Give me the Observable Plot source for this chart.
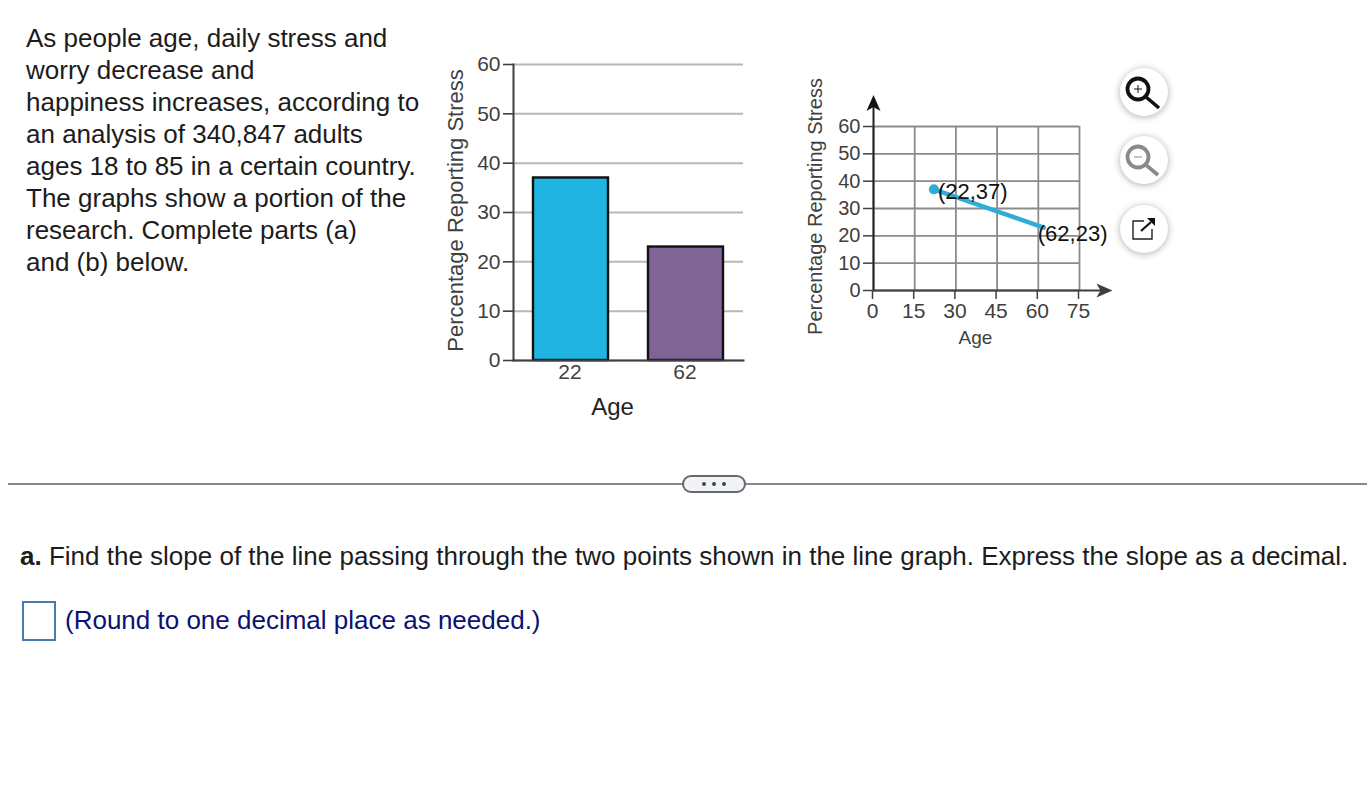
<!DOCTYPE html>
<html><head><meta charset="utf-8">
<script src="https://cdn.jsdelivr.net/npm/d3@7"></script>
<script src="https://cdn.jsdelivr.net/npm/@observablehq/plot@0.6"></script>
<style>
html,body{margin:0;padding:0;background:#fff;width:1367px;height:786px;overflow:hidden;font-family:"Liberation Sans",Arial,sans-serif;color:#1c1c1c}
.abs{position:absolute}
#intro{left:26px;top:22px;width:410px;font-size:26px;line-height:32px;white-space:pre}
#barChart{left:430px;top:40px}
#lineChart{left:795px;top:60px}
#rule{left:8px;top:483px;width:1359px;height:2px;background:#7d8a92}
#pill{left:682px;top:475px;width:60px;height:14px;border:2px solid #68696b;border-radius:9px;background:#f1f3f7;display:flex;align-items:center;justify-content:center;gap:6px}
#pill i{width:4px;height:4px;border-radius:50%;background:#3d4650;display:block}
#q{left:20px;top:540px;font-size:26px;line-height:32px;white-space:pre}
#box{left:22px;top:601px;width:30px;height:36px;border:2px solid #4a7cab}
#hint{left:65px;top:604px;font-size:26px;line-height:32px;color:#0b1272;white-space:pre}
.icon{width:48px;height:48px;left:1120px;border-radius:50%;background:#fff;box-shadow:0 1px 7px rgba(0,0,0,.33)}
.icon svg{display:block}
svg text{font-family:"Liberation Sans",Arial,sans-serif}
</style></head><body>
<div id="intro" class="abs">As people age, daily stress and
worry decrease and
happiness increases, according to
an analysis of 340,847 adults
ages 18 to 85 in a certain country.
The graphs show a portion of the
research. Complete parts (a)
and (b) below.</div>
<div id="barChart" class="abs"></div>
<div id="lineChart" class="abs"></div>
<div class="abs icon" style="top:68px"><svg width="48" height="48" viewBox="0 0 48 48"><circle cx="18" cy="21" r="10.5" fill="none" stroke="#111" stroke-width="3.8"/><path d="M26 29L39 40" stroke="#111" stroke-width="3.6"/><path d="M14 21h8M18 17v8" stroke="#111" stroke-width="1"/></svg></div>
<div class="abs icon" style="top:136px"><svg width="48" height="48" viewBox="0 0 48 48"><circle cx="18" cy="21" r="10.5" fill="none" stroke="#8a8a8a" stroke-width="3.8"/><path d="M26 29L38 39" stroke="#8a8a8a" stroke-width="3.6"/><path d="M14 21h8" stroke="#8a8a8a" stroke-width="1"/></svg></div>
<div class="abs icon" style="top:205px"><svg width="48" height="48" viewBox="0 0 48 48"><path d="M24 16H13V34H32V24" fill="none" stroke="#222" stroke-width="1.4"/><path d="M21 26L31 17" stroke="#111" stroke-width="2.2"/><path d="M27 13H35V21Z" fill="#111"/></svg></div>
<div id="rule" class="abs"></div>
<div id="pill" class="abs"><i></i><i></i><i></i></div>
<div id="q" class="abs"><b>a.</b> Find the slope of the line passing through the two points shown in the line graph. Express the slope as a decimal.</div>
<div id="box" class="abs"></div>
<div id="hint" class="abs">(Round to one decimal place as needed.)</div>
<script>
const ages = [22, 62];
const stress = [37, 23];
const barColors = ["#1fb4e2", "#7e6595"];
const barTicks = [0, 10, 20, 30, 40, 50, 60];
const lineXTicks = [0, 15, 30, 45, 60, 75];
const lineYTicks = [0, 10, 20, 30, 40, 50, 60];
const pointLabels = ["(22,37)", "(62,23)"];
const yLabel = "Percentage Reporting Stress";
const xLabel = "Age";
const xAxisEnd = 87;
const yAxisEnd = 71.5;

const ink = "#3f3f3f";
const rows = ages.map((a, i) => ({age: a, stress: stress[i], color: barColors[i], label: pointLabels[i]}));

const barPlot = Plot.plot({
  width: 330, height: 390,
  marginLeft: 83, marginRight: 17, marginTop: 24, marginBottom: 70,
  style: {background: "transparent"},
  x: {type: "band", domain: ages, paddingInner: 0.35, paddingOuter: 0.17, align: 0.5, axis: null},
  y: {domain: [0, 60], ticks: barTicks, axis: null},
  marks: [
    Plot.gridY(barTicks, {stroke: "#b8b8b8", strokeOpacity: 1, strokeWidth: 2}),
    Plot.barY(rows, {x: "age", y: "stress", fill: "color", stroke: "#111", strokeWidth: 2.4}),
    Plot.frame({anchor: "left", stroke: ink, strokeWidth: 2}),
    Plot.frame({anchor: "bottom", stroke: ink, strokeWidth: 2}),
    Plot.axisY(barTicks, {anchor: "left", label: null, tickSize: 10, tickPadding: 3, stroke: ink, strokeWidth: 1.6, fill: ink, fontSize: 21}),
    Plot.axisX(ages, {anchor: "bottom", label: null, tickSize: 0, tickPadding: 4, fill: ink, fontSize: 21, dx: -1}),
    Plot.text([yLabel], {frameAnchor: "left", rotate: -90, dx: -58, dy: -2, textAnchor: "middle", lineAnchor: "middle", fontSize: 22, fill: ink}),
    Plot.text([xLabel], {frameAnchor: "bottom", dx: -16, dy: 47, textAnchor: "middle", lineAnchor: "middle", fontSize: 24, fill: "#222"})
  ]
});
document.getElementById("barChart").append(barPlot);

// Barbed arrowhead whose tip sits at the anchor point.
const head = {draw(c) { c.moveTo(0, 0); c.lineTo(7, 16); c.lineTo(0, 12); c.lineTo(-7, 16); c.closePath(); }};
const gridInk = "#8b8b8b";
const blue = "#2fadd6";

const linePlot = Plot.plot({
  width: 330, height: 300,
  marginLeft: 78, marginRight: 46, marginTop: 66, marginBottom: 70,
  style: {background: "transparent", overflow: "visible"},
  x: {domain: [0, 75], axis: null},
  y: {domain: [0, 60], axis: null},
  marks: [
    Plot.gridX(lineXTicks, {stroke: gridInk, strokeOpacity: 1, strokeWidth: 1.8}),
    Plot.gridY(lineYTicks, {stroke: gridInk, strokeOpacity: 1, strokeWidth: 1.8}),
    Plot.ruleX([0], {y1: 0, y2: yAxisEnd - 3, stroke: "#222", strokeWidth: 2}),
    Plot.ruleY([0], {x1: 0, x2: xAxisEnd - 3, stroke: ink, strokeWidth: 2}),
    Plot.dot([0], {x: 0, y: () => yAxisEnd, symbol: head, fill: "#111", stroke: "none", r: 5}),
    Plot.dot([0], {x: () => xAxisEnd, y: 0, symbol: head, rotate: 90, fill: ink, stroke: "none", r: 5}),
    Plot.axisY(lineYTicks, {anchor: "left", label: null, tickSize: 10, tickPadding: 3, stroke: ink, strokeWidth: 1.5, fill: ink, fontSize: 20}),
    Plot.axisX(lineXTicks, {anchor: "bottom", label: null, tickSize: 9, tickPadding: 4, stroke: ink, strokeWidth: 1.5, fill: ink, fontSize: 21, dx: -1}),
    Plot.line(rows, {x: "age", y: "stress", stroke: blue, strokeWidth: 4.5}),
    Plot.dot(rows.slice(0, 1), {x: "age", y: "stress", fill: blue, stroke: "none", r: 5}),
    Plot.text(rows.slice(0, 1), {x: "age", y: "stress", text: "label", textAnchor: "start", lineAnchor: "middle", dx: 4, dy: 3, fontSize: 22, fill: "#111"}),
    Plot.text(rows.slice(1), {x: "age", y: "stress", text: "label", textAnchor: "start", lineAnchor: "middle", dx: -6, dy: 6, fontSize: 22, fill: "#111"}),
    Plot.text([yLabel], {frameAnchor: "left", rotate: -90, dx: -58, dy: -2, textAnchor: "middle", lineAnchor: "middle", fontSize: 20, fill: ink}),
    Plot.text([xLabel], {frameAnchor: "bottom", dx: -1, dy: 47, textAnchor: "middle", lineAnchor: "middle", fontSize: 19, fill: ink})
  ]
});
document.getElementById("lineChart").append(linePlot);
</script>
</body></html>
